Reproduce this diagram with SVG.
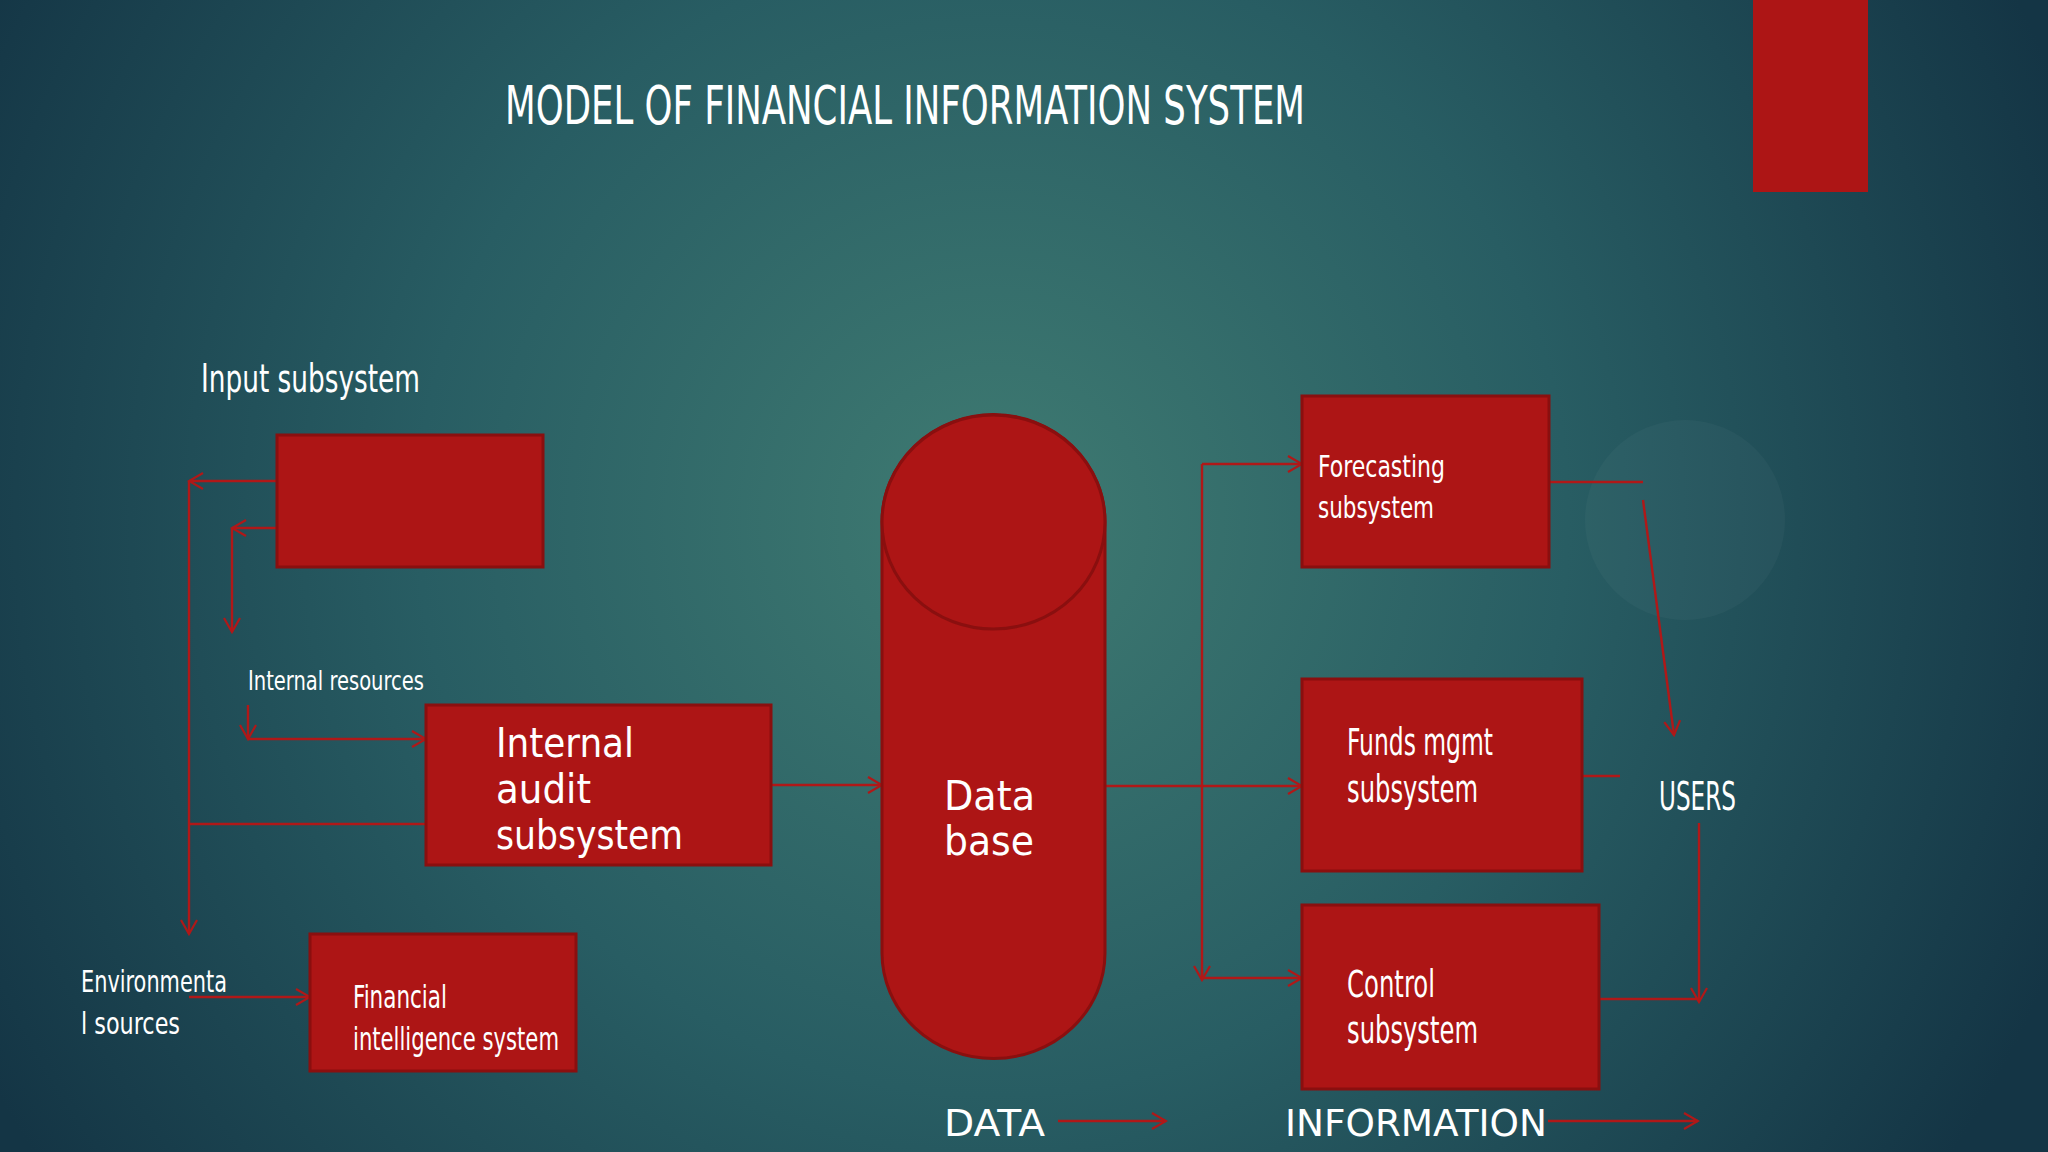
<svg xmlns="http://www.w3.org/2000/svg" width="2048" height="1152" viewBox="0 0 2048 1152">
<defs>
<radialGradient id="bg" cx="993" cy="520" r="1150" gradientUnits="userSpaceOnUse">
<stop offset="0" stop-color="#3f7b72"/>
<stop offset="0.5" stop-color="#285d63"/>
<stop offset="1" stop-color="#143545"/>
</radialGradient>
<marker id="ah" viewBox="0 0 20 20" refX="18" refY="10" markerWidth="20" markerHeight="20" markerUnits="userSpaceOnUse" orient="auto">
<path d="M4,2 L18,10 L4,18" fill="none" stroke="#b01818" stroke-width="2.2"/>
</marker>
<style>
.box{fill:#ad1515;stroke:#8a0f0f;stroke-width:3}
.ln{fill:none;stroke:#b01818;stroke-width:2.4}
.ar{fill:none;stroke:#b01818;stroke-width:2.4;marker-end:url(#ah)}
.cn{font-family:"DejaVu Sans Condensed","Liberation Sans",sans-serif;font-stretch:condensed;fill:#ffffff}
.gt{font-family:"DejaVu Sans","Liberation Sans",sans-serif;fill:#ffffff}
</style>
</defs>
<rect width="2048" height="1152" fill="url(#bg)"/>
<circle cx="1685" cy="520" r="100" fill="#ffffff" opacity="0.03"/>
<rect x="1753" y="0" width="115" height="192" fill="#ad1515"/>
<text class="cn" x="505" y="124" font-size="54" textLength="800" lengthAdjust="spacingAndGlyphs">MODEL OF FINANCIAL INFORMATION SYSTEM</text>

<g id="connectors">
<path class="ar" d="M277,481 H189"/>
<path class="ar" d="M189,481 V934"/>
<path class="ar" d="M277,528 H232"/>
<path class="ar" d="M232,528 V632"/>
<path class="ar" d="M248,705 V739"/>
<path class="ar" d="M248,739 H426"/>
<path class="ln" d="M189,824 H426"/>
<path class="ar" d="M189,997 H310"/>
<path class="ar" d="M771,785 H882"/>
<path class="ar" d="M1105,786 H1302"/>
<path class="ln" d="M1202,464 V977"/>
<path class="ar" d="M1202,970 V980"/>
<path class="ar" d="M1202,464 H1302"/>
<path class="ar" d="M1202,978 H1302"/>
<path class="ln" d="M1549,482 H1643"/>
<path class="ar" d="M1643,500 L1674,735"/>
<path class="ln" d="M1582,776 H1620"/>
<path class="ar" d="M1699,823 V1002"/>
<path class="ln" d="M1599,999 H1699"/>
<path class="ar" d="M1058,1121 H1166"/>
<path class="ar" d="M1548,1121 H1698"/>
</g>

<g id="input-subsystem">
<text class="cn" x="201" y="392" font-size="39" textLength="219" lengthAdjust="spacingAndGlyphs">Input subsystem</text>
<rect class="box" x="277" y="435" width="266" height="132"/>
</g>
<g id="internal-resources"><text class="cn" x="248" y="690" font-size="26" textLength="176" lengthAdjust="spacingAndGlyphs">Internal resources</text></g>
<g id="internal-audit">
<rect class="box" x="426" y="705" width="345" height="160"/>
<text class="gt" x="496" y="757" font-size="40" textLength="138" lengthAdjust="spacingAndGlyphs">Internal</text>
<text class="gt" x="496" y="803" font-size="40" textLength="95" lengthAdjust="spacingAndGlyphs">audit</text>
<text class="gt" x="496" y="849" font-size="40" textLength="187" lengthAdjust="spacingAndGlyphs">subsystem</text>
</g>
<g id="environmental">
<text class="cn" x="81" y="992" font-size="31" textLength="146" lengthAdjust="spacingAndGlyphs">Environmenta</text>
<text class="cn" x="81" y="1034" font-size="31" textLength="99" lengthAdjust="spacingAndGlyphs">l sources</text>
</g>
<g id="financial-intelligence">
<rect class="box" x="310" y="934" width="266" height="137"/>
<text class="cn" x="353" y="1008" font-size="32" textLength="94" lengthAdjust="spacingAndGlyphs">Financial</text>
<text class="cn" x="353" y="1050" font-size="32" textLength="206" lengthAdjust="spacingAndGlyphs">intelligence system</text>
</g>
<g id="database">
<path d="M882,522 A111,107 0 0 1 1105,522 V953 A111,105 0 0 1 882,953 Z" fill="#ad1515" stroke="#8a0f0f" stroke-width="3"/>
<ellipse cx="993.5" cy="522" rx="111.5" ry="107" fill="#ad1515" stroke="#8a0f0f" stroke-width="3"/>
<text class="gt" x="944" y="810" font-size="40" textLength="91" lengthAdjust="spacingAndGlyphs">Data</text>
<text class="gt" x="944" y="855" font-size="40" textLength="90" lengthAdjust="spacingAndGlyphs">base</text>
</g>
<g id="forecasting">
<rect class="box" x="1302" y="396" width="247" height="171"/>
<text class="cn" x="1318" y="477" font-size="31" textLength="127" lengthAdjust="spacingAndGlyphs">Forecasting</text>
<text class="cn" x="1318" y="518" font-size="31" textLength="116" lengthAdjust="spacingAndGlyphs">subsystem</text>
</g>
<g id="funds">
<rect class="box" x="1302" y="679" width="280" height="192"/>
<text class="cn" x="1347" y="755" font-size="37" textLength="146" lengthAdjust="spacingAndGlyphs">Funds mgmt</text>
<text class="cn" x="1347" y="802" font-size="37" textLength="131" lengthAdjust="spacingAndGlyphs">subsystem</text>
</g>
<g id="control">
<rect class="box" x="1302" y="905" width="297" height="184"/>
<text class="cn" x="1347" y="997" font-size="37" textLength="88" lengthAdjust="spacingAndGlyphs">Control</text>
<text class="cn" x="1347" y="1043" font-size="37" textLength="131" lengthAdjust="spacingAndGlyphs">subsystem</text>
</g>
<g id="users"><text class="cn" x="1659" y="810" font-size="39" textLength="77" lengthAdjust="spacingAndGlyphs">USERS</text></g>
<g id="data-label"><text class="gt" x="944" y="1136" font-size="38" textLength="101" lengthAdjust="spacingAndGlyphs">DATA</text></g>
<g id="information-label"><text class="gt" x="1285" y="1136" font-size="38" textLength="262" lengthAdjust="spacingAndGlyphs">INFORMATION</text></g>
</svg>
